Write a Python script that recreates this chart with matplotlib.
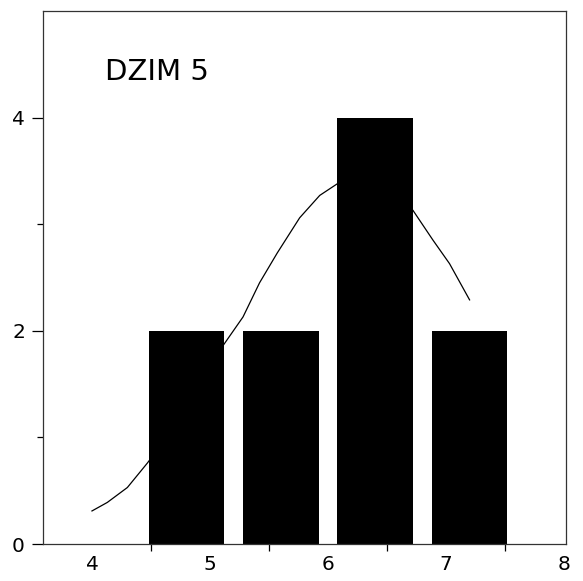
import numpy as np
import matplotlib
matplotlib.use("Agg")
import matplotlib.pyplot as plt
from matplotlib.ticker import FixedLocator

# histogram bins (centre) and counts
bin_centers = [4.8, 5.6, 6.4, 7.2]
counts = [2, 2, 4, 2]
bar_width = 0.64

# fitted density curve (parts under bars estimated)
curve_x = [4.00, 4.13, 4.30, 4.47, 4.70, 4.90, 5.11, 5.28, 5.42, 5.57,
           5.76, 5.93, 6.08, 6.30, 6.50, 6.72, 6.89, 7.03, 7.20]
curve_y = [0.31, 0.39, 0.53, 0.76, 1.10, 1.48, 1.86, 2.13, 2.45, 2.73,
           3.06, 3.27, 3.38, 3.46, 3.37, 3.13, 2.85, 2.63, 2.29]

x_labels = [4, 5, 6, 7, 8]
y_labels = [0, 2, 4]

fig = plt.figure(figsize=(5.83, 5.81), dpi=100)
ax = fig.add_axes([43 / 583, 1 - 544 / 581, 523 / 583, 533 / 581])

ax.plot(curve_x, curve_y, color="black", linewidth=0.9, zorder=1)
ax.bar(bin_centers, counts, width=bar_width, color="black", zorder=2)

ax.set_xlim(3.585, 8.017)
ax.set_ylim(0, 5)

ax.xaxis.set_major_locator(FixedLocator(x_labels))
ax.xaxis.set_minor_locator(FixedLocator([4.5, 5.5, 6.5, 7.5]))
ax.yaxis.set_major_locator(FixedLocator(y_labels))
ax.yaxis.set_minor_locator(FixedLocator([1, 3]))

ax.tick_params(axis="x", which="major", length=0, pad=8, labelsize=14.5)
ax.tick_params(axis="x", which="minor", length=5, width=0.9, direction="out")
ax.tick_params(axis="y", which="major", length=8, width=0.9, pad=5, labelsize=14.5)
ax.tick_params(axis="y", which="minor", length=4, width=0.9)

for s in ax.spines.values():
    s.set_linewidth(0.9)
    s.set_color("#333333")

ax.text(105 / 583 * 583 / 523 - 43 / 523, 1 - (72 - 11) / 533, "DZIM 5",
        transform=ax.transAxes, fontsize=21, va="center", ha="left")

fig.savefig("out.png", dpi=100)
